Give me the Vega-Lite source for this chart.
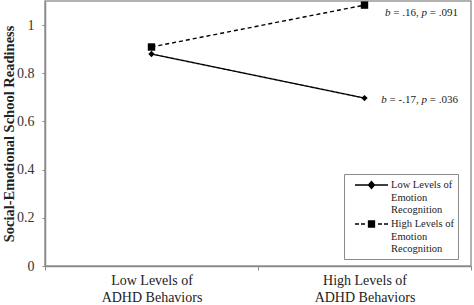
{
  "$schema": "https://vega.github.io/schema/vega-lite/v6.json",
  "width": 426,
  "height": 265,
  "autosize": {"type": "none"},
  "padding": {"left": 45, "top": 1, "right": 3, "bottom": 39},
  "background": "white",
  "config": {
    "view": {"stroke": "#999999", "strokeWidth": 1.5},
    "font": "Liberation Serif"
  },
  "datasets": {
    "pts": [
      {"adhd": "Low", "er": "Low Levels of Emotion Recognition", "value": 0.88},
      {"adhd": "High", "er": "Low Levels of Emotion Recognition", "value": 0.697},
      {"adhd": "Low", "er": "High Levels of Emotion Recognition", "value": 0.909},
      {"adhd": "High", "er": "High Levels of Emotion Recognition", "value": 1.083}
    ],
    "notes": [
      {"id": 1, "adhd": "High", "value": 1.083, "b": "b", "mid": "= .16,", "p": "p", "rest": "= .091"},
      {"id": 2, "adhd": "High", "value": 0.697, "b": "b", "mid": "= -.17,", "p": "p", "rest": "= .036"}
    ]
  },
  "encoding": {
    "x": {
      "field": "adhd", "type": "nominal", "sort": ["Low", "High"],
      "scale": {"paddingInner": 0, "paddingOuter": 0},
      "axis": {
        "title": null, "labelAngle": 0, "tickBand": "extent",
        "domainColor": "#8a8a8a", "domainWidth": 1.5, "tickColor": "#8a8a8a", "tickSize": 4,
        "labelFontSize": 14, "labelColor": "#222222", "labelPadding": 3, "labelLineHeight": 17,
        "labelExpr": "datum.value == 'Low' ? ['Low Levels of', 'ADHD Behaviors'] : datum.value == 'High' ? ['High Levels of', 'ADHD Behaviors'] : ''"
      }
    },
    "y": {
      "field": "value", "type": "quantitative",
      "scale": {"domain": [0, 1.1], "nice": false},
      "axis": {
        "title": "Social-Emotional School Readiness", "titleFontSize": 14.5, "titleFontWeight": "bold", "titleColor": "#222222", "titlePadding": 0,
        "values": [0, 0.2, 0.4, 0.6, 0.8, 1], "format": "~g", "grid": false,
        "labelFontSize": 14, "labelColor": "#333333", "labelPadding": 8,
        "domainColor": "#8a8a8a", "domainWidth": 1.5, "tickColor": "#8a8a8a", "tickSize": 3
      }
    }
  },
  "layer": [
    {
      "data": {"name": "pts"},
      "mark": {"type": "line", "strokeWidth": 1.4},
      "encoding": {
        "color": {
          "field": "er", "type": "nominal",
          "sort": ["Low Levels of Emotion Recognition", "High Levels of Emotion Recognition"],
          "scale": {"range": ["black", "black"]},
          "legend": {
            "title": null, "orient": "none", "legendX": 299, "legendY": 173,
            "strokeColor": "#8a8a8a", "padding": 4, "fillColor": "white",
            "symbolSize": 144, "symbolStrokeWidth": 1.3, "symbolStrokeColor": "black", "symbolFillColor": "black",
            "labelOffset": 29, "labelFontSize": 10.5, "labelColor": "#222222", "labelLineHeight": 12, "rowPadding": 1,
            "labelExpr": "datum.label == 'Low Levels of Emotion Recognition' ? ['Low Levels of\u00a0\u00a0\u00a0', 'Emotion', 'Recognition'] : ['High Levels of\u00a0\u00a0\u00a0', 'Emotion', 'Recognition']",
            "encode": {
              "symbols": {
                "update": {
                  "shape": {"signal": "datum.value == 'Low Levels of Emotion Recognition' ? 'M0,0H5.5M2.25,0L2.75,-0.583L3.25,0L2.75,0.583Z' : 'M0,0H0.667M1,0H1.667M3.833,0H4.5M4.833,0H5.5M2.25,-0.5H3.25V0.5H2.25Z'"},
                  "fill": {"value": "black"},
                  "stroke": {"value": "black"},
                  "strokeDash": {"value": []}
                }
              }
            }
          }
        },
        "strokeDash": {
          "field": "er", "type": "nominal",
          "sort": ["Low Levels of Emotion Recognition", "High Levels of Emotion Recognition"],
          "scale": {"range": [[1, 0], [4, 3]]},
          "legend": null
        }
      }
    },
    {
      "data": {"name": "pts"},
      "mark": {"type": "point", "filled": true, "color": "black", "opacity": 1},
      "encoding": {
        "shape": {
          "field": "er", "type": "nominal",
          "sort": ["Low Levels of Emotion Recognition", "High Levels of Emotion Recognition"],
          "scale": {"range": ["diamond", "square"]},
          "legend": null
        },
        "size": {
          "field": "er", "type": "nominal",
          "sort": ["Low Levels of Emotion Recognition", "High Levels of Emotion Recognition"],
          "scale": {"range": [40, 55]},
          "legend": null
        }
      }
    },
    {
      "data": {"name": "notes"},
      "transform": [{"filter": "datum.id == 1"}],
      "layer": [
        {"mark": {"type": "text", "align": "left", "dx": 20.5, "dy": 8, "fontSize": 11, "fontStyle": "italic", "color": "#222222"}, "encoding": {"text": {"field": "b"}}},
        {"mark": {"type": "text", "align": "left", "dx": 28.75, "dy": 8, "fontSize": 11, "color": "#222222"}, "encoding": {"text": {"field": "mid"}}},
        {"mark": {"type": "text", "align": "left", "dx": 56.95, "dy": 8, "fontSize": 11, "fontStyle": "italic", "color": "#222222"}, "encoding": {"text": {"field": "p"}}},
        {"mark": {"type": "text", "align": "left", "dx": 65.2, "dy": 8, "fontSize": 11, "color": "#222222"}, "encoding": {"text": {"field": "rest"}}}
      ]
    },
    {
      "data": {"name": "notes"},
      "transform": [{"filter": "datum.id == 2"}],
      "layer": [
        {"mark": {"type": "text", "align": "left", "dx": 16.8, "dy": 2, "fontSize": 11, "fontStyle": "italic", "color": "#222222"}, "encoding": {"text": {"field": "b"}}},
        {"mark": {"type": "text", "align": "left", "dx": 25.05, "dy": 2, "fontSize": 11, "color": "#222222"}, "encoding": {"text": {"field": "mid"}}},
        {"mark": {"type": "text", "align": "left", "dx": 56.95, "dy": 2, "fontSize": 11, "fontStyle": "italic", "color": "#222222"}, "encoding": {"text": {"field": "p"}}},
        {"mark": {"type": "text", "align": "left", "dx": 65.2, "dy": 2, "fontSize": 11, "color": "#222222"}, "encoding": {"text": {"field": "rest"}}}
      ]
    }
  ]
}
